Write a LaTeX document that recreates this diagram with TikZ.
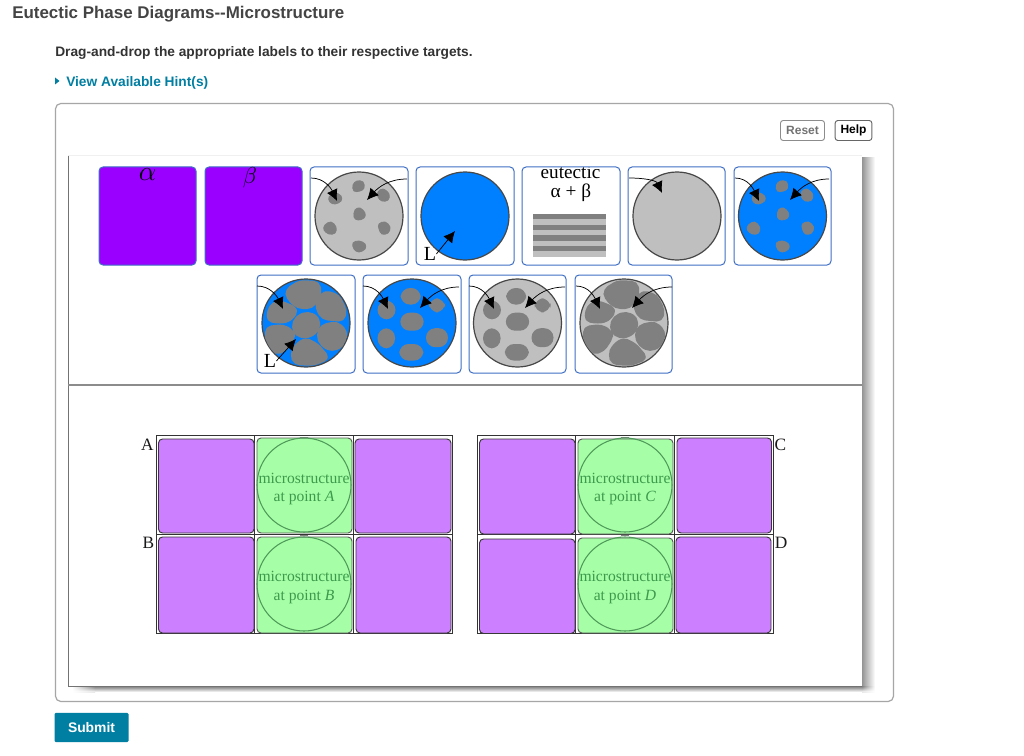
\documentclass[tikz,border=0pt]{standalone}
\usepackage{fontspec}
\setmainfont{Liberation Serif}
\newfontfamily\uifont{Liberation Sans}
\usetikzlibrary{arrows.meta}
\definecolor{vio}{HTML}{9900FF}
\definecolor{lvio}{HTML}{CC80FF}
\definecolor{lgreen}{HTML}{A6FFA6}
\definecolor{liq}{HTML}{0080FF}
\definecolor{pale}{HTML}{BFBFBF}
\definecolor{blob}{HTML}{808080}
\definecolor{cardline}{HTML}{3F6FC4}
\definecolor{teal}{HTML}{007FA3}
\definecolor{gtext}{HTML}{3D9A4D}
\definecolor{gline}{HTML}{4F9A5A}
\definecolor{slate}{HTML}{444444}
\tikzset{
 x=0.75pt,y=-0.75pt,
 card/.style={draw=cardline,line width=0.75pt,rounded corners=3pt,fill=white},
 vcard/.style={draw=cardline,line width=0.75pt,rounded corners=3pt,fill=vio},
 disc/.style={draw=black!72,line width=0.9pt},
 grain/.style={fill=blob,draw=blob,line width=0.6pt},
 medgrain/.style={fill=blob,rounded corners=7pt},
 biggrain/.style={fill=blob,draw=blob,line width=3pt,line join=round,rounded corners=3.5pt},
 pointer/.style={-{Latex[length=8.5pt,width=8.5pt]},black,line width=0.55pt},
 tile/.style={fill=lvio,draw=black!78,line width=0.7pt,rounded corners=3pt},
 gtile/.style={fill=lgreen,draw=black!65,line width=0.7pt,rounded corners=3pt},
 gridline/.style={draw=black!80,line width=0.7pt},
 ptlabel/.style={font=\fontsize{13pt}{14pt}\selectfont,text=black!90,inner sep=0pt},
 mslabel/.style={align=center,text=gtext,font=\fontsize{11.7pt}{14pt}\selectfont,inner sep=0pt},
 ui/.style={font=\uifont\bfseries,inner sep=0pt,anchor=west},
 topmark/.style={draw=black!50,line width=1pt},
}
\newcommand{\gr}[1]{\fill[grain] plot[smooth cycle,tension=0.65] coordinates {#1};}
\newcommand{\smallgrains}[1]{\begin{scope}[shift={#1}]
\gr{(-6,-31)(-2,-35)(4,-34)(5,-28)(1,-25)(-5,-25)}
\gr{(-30,-19)(-24,-23)(-18,-20)(-18,-15)(-24,-12)(-29,-14)}
\gr{(19,-24)(24,-27)(30,-22)(29,-16)(23,-15)(19,-19)}
\gr{(-4,-6)(1,-8)(6,-3)(5,2)(-1,4)(-5,1)}
\gr{(-34,9)(-28,6)(-23,11)(-24,17)(-30,18)(-35,14)}
\gr{(20,8)(26,6)(31,11)(29,17)(23,18)(20,13)}
\gr{(-6,27)(0,25)(6,28)(6,33)(0,36)(-5,33)}
\end{scope}}
\newcommand{\medgrains}[1]{\begin{scope}[shift={#1}]
\fill[medgrain] (-11.3,-35)--(8.7,-35)--(8.7,-18.4)--(-11.3,-18.4)--cycle;
\fill[medgrain] (-34.5,-22.3)--(-16.5,-22.3)--(-16.5,-3.7)--(-34.5,-3.7)--cycle;
\fill[medgrain] (17,-24.7)--(33,-24.7)--(33,-10.7)--(17,-10.7)--cycle;
\fill[medgrain] (-11.7,-10.3)--(11.7,-10.3)--(11.7,7.7)--(-11.7,7.7)--cycle;
\fill[medgrain] (-34.4,5.3)--(-17,5.3)--(-17,25.3)--(-34.4,25.3)--cycle;
\fill[medgrain] (14,5.2)--(36,5.2)--(36,24.2)--(14,24.2)--cycle;
\fill[medgrain] (-12.7,21)--(11.3,21)--(11.3,37.6)--(-12.7,37.6)--cycle;
\end{scope}}
\newcommand{\largegrains}[1]{\begin{scope}[shift={#1}]
\filldraw[biggrain] (-19,-33)--(-6,-41)--(12,-40)--(14,-30)--(6,-16)--(-8,-16)--(-18,-25)--cycle;
\filldraw[biggrain] (19,-31)--(32,-27)--(39,-13)--(37,-3)--(17,-5)--(11,-15)--(12,-23)--cycle;
\filldraw[biggrain] (-36,-16)--(-28,-21)--(-18,-18)--(-9,-13)--(-16,-3)--(-26,-1)--(-38,-3)--cycle;
\filldraw[biggrain] (-9,-6)--(2,-10)--(12,-5)--(12,7)--(2,14)--(-9,12)--(-13,4)--cycle;
\filldraw[biggrain] (16,3)--(31,0)--(40,9)--(37,22)--(26,27)--(16,22)--(12,12)--cycle;
\filldraw[biggrain] (-39,5)--(-23,3)--(-13,9)--(-13,15)--(-21,27)--(-31,30)--(-39,22)--cycle;
\filldraw[biggrain] (-11,24)--(-1,16)--(11,22)--(22,35)--(7,41)--(-11,40)--(-14,32)--cycle;
\end{scope}}
\newcommand{\leftpt}[2]{\draw[pointer] #1 to[out=0,in=115] #2;}
\newcommand{\rightpt}[2]{\draw[pointer] #1 to[out=180,in=48] #2;}
\begin{document}
\begin{tikzpicture}
\useasboundingbox (0,0) rectangle (1024,756);
\fill[white] (0,0) rectangle (1024,756);
% page text
\node[ui,text=slate,font=\uifont\bfseries\fontsize{12.7pt}{14pt}\selectfont] (title) at (12,14) {Eutectic Phase Diagrams--Microstructure};
\node[ui,text=black!80,font=\uifont\bfseries\fontsize{10.3pt}{12pt}\selectfont] (instr) at (55,53) {Drag-and-drop the appropriate labels to their respective targets.};
\fill[teal] (55,77.5)--(59.5,81)--(55,84.5)--cycle;
\node[ui,text=teal,font=\uifont\bfseries\fontsize{10.3pt}{12pt}\selectfont] (hint) at (66,83) {View Available Hint(s)};
% panel
\draw[black!35,line width=0.9pt,rounded corners=4pt,fill=white] (55.5,103.5) rectangle (893.5,701.5);
\node[draw=black!45,line width=0.7pt,rounded corners=2pt,minimum width=33pt,minimum height=15pt,inner sep=0pt,font=\uifont\bfseries\fontsize{9pt}{10pt}\selectfont,text=black!55] (reset) at (802.5,130.5) {Reset};
\node[draw=black!60,line width=0.7pt,rounded corners=2pt,minimum width=27.5pt,minimum height=15pt,inner sep=0pt,font=\uifont\bfseries\fontsize{9pt}{10pt}\selectfont,text=black] (help) at (853.5,130.5) {Help};
% shadow
\shade[left color=black!42,right color=white] (862,158) rectangle (875,686);
\foreach \i/\c in {0/50,1/44,2/36,3/27,4/18,5/9}{
  \shade[left color=white,right color=black!\c] (72,686+\i) rectangle (95,687+\i);
  \fill[black!\c] (95,686+\i) rectangle (862,687+\i);
  \shade[left color=black!\c,right color=white] (862,686+\i) rectangle (875,687+\i);
}
\draw[black!6,line width=0.6pt] (68,155.5)--(862,155.5);
\fill[white] (68,156) rectangle (862,686);
\draw[black!55,line width=0.75pt] (68,156)--(68,686)--(862,686);
\draw[black!45,line width=1.4pt] (68,385)--(862,385);
% top row
\draw[vcard] (99,167) rectangle (196,265);
\node[inner sep=0pt] (alpha) at (147.5,175) {\fontsize{20.74pt}{20pt}\selectfont$\alpha$};
\draw[vcard] (205,167) rectangle (302,265);
\node[inner sep=0pt] (beta) at (250,178) {\fontsize{17.28pt}{20pt}\selectfont$\beta$};
% card: pale with few grains
\draw[card] (310,167) rectangle (408,265);
\draw[disc,fill=pale] (359,216) circle[radius=44];
\smallgrains{(359,216)}
\leftpt{(311,178)}{(337,201)}
\rightpt{(407,179)}{(367,200)}
% card: liquid
\draw[card] (416,167) rectangle (514,265);
\draw[disc,fill=liq] (465,216) circle[radius=44];
\node[ptlabel,font=\fontsize{15pt}{15pt}\selectfont,text=black] (L1) at (430,254) {L};
\draw[pointer] (L1.east) -- (455,231);
% card: eutectic
\draw[card] (522,167) rectangle (620,265);
\begin{scope}
\clip (522,167.5) rectangle (620,265);
\node[inner sep=0pt,font=\fontsize{14.4pt}{14pt}\selectfont] (eut) at (570.5,172.5) {eutectic};
\node[inner sep=0pt,font=\fontsize{14.5pt}{15pt}\selectfont] (ab) at (571,193) {α + β};
\end{scope}
\fill[pale] (533,214) rectangle (606,257);
\foreach \y in {214,224.6,235.4,246}{\fill[blob] (533,\y) rectangle (606,\y+5.4);}
% card: pale
\draw[card] (628,167) rectangle (725,265);
\draw[disc,fill=pale] (677,216) circle[radius=44];
\leftpt{(629,178)}{(662,193)}
% card: liquid few grains
\draw[card] (734,167) rectangle (831,265);
\draw[disc,fill=liq] (782.5,216) circle[radius=44];
\smallgrains{(782.5,216)}
\leftpt{(735,178)}{(759,201)}
\rightpt{(829,179)}{(790,200)}
% second row
\draw[card] (257,275) rectangle (355,373);
\draw[disc,fill=liq] (306,323) circle[radius=44];
\begin{scope}\clip (306,323) circle[radius=43.5];\largegrains{(306,323)}\end{scope}
\leftpt{(257,286)}{(283,309)}
\node[ptlabel,font=\fontsize{15pt}{15pt}\selectfont,text=black] (L2) at (270,361) {L};
\draw[pointer] (L2.east) -- (296,339);
\draw[card] (363,275) rectangle (461,373);
\draw[disc,fill=liq] (412,323) circle[radius=44];
\medgrains{(412,323)}
\leftpt{(363,286)}{(388,309)}
\rightpt{(459,287)}{(420,308)}
\draw[card] (469,275) rectangle (566,373);
\draw[disc,fill=pale] (517.5,323) circle[radius=44];
\medgrains{(517.5,323)}
\leftpt{(469,286)}{(494,309)}
\rightpt{(565,287)}{(525,308)}
\draw[card] (575,275) rectangle (672,373);
\draw[disc,fill=pale] (624,323) circle[radius=44];
\begin{scope}\clip (624,323) circle[radius=43.5];\largegrains{(624,323)}\end{scope}
\leftpt{(576,286)}{(600,309)}
\rightpt{(672,287)}{(632,308)}
% left grid
\draw[gridline] (156,435) rectangle (452,633);
\draw[gridline] (254.5,435)--(254.5,633) (353,435)--(353,633) (156,534)--(452,534);
\draw[tile] (158.5,439) rectangle (254,533);
\draw[gtile] (257,438) rectangle (352,533);
\draw[tile] (355,439) rectangle (451,533);
\draw[tile] (158.5,537) rectangle (254,633);
\draw[gtile] (257,537) rectangle (352,633);
\draw[tile] (356,537) rectangle (451,633);
\draw[topmark] (300,437.5)--(308,437.5) (300,535.5)--(308,535.5);
\draw[gline,line width=0.8pt] (304,485) circle[radius=47];
\draw[gline,line width=0.8pt] (304,584) circle[radius=47];
\node[mslabel] (ma) at (304,489) {microstructure\\at point \textit{A}};
\node[mslabel] (mb) at (304,587.5) {microstructure\\at point \textit{B}};
\node[ptlabel] (A) at (147.5,445) {A};
\node[ptlabel] (B) at (148.5,542.5) {B};
% right grid
\draw[gridline] (477,435) rectangle (773,633);
\draw[gridline] (575.5,435)--(575.5,633) (674,435)--(674,633) (477,534)--(773,534);
\draw[tile] (479.5,439) rectangle (575,534);
\draw[gtile] (578,439) rectangle (673,534);
\draw[tile] (677,438) rectangle (771.5,533);
\draw[tile] (479.5,539) rectangle (575,633.5);
\draw[gtile] (578,538) rectangle (673,633);
\draw[tile] (676,537) rectangle (771,633);
\draw[topmark] (621,437.5)--(629,437.5) (621,535.5)--(629,535.5);
\draw[gline,line width=0.8pt] (625,485) circle[radius=47];
\draw[gline,line width=0.8pt] (625,584) circle[radius=47];
\node[mslabel] (mc) at (625,489) {microstructure\\at point \textit{C}};
\node[mslabel] (md) at (625,587.5) {microstructure\\at point \textit{D}};
\node[ptlabel] (C) at (780.5,444.5) {C};
\node[ptlabel] (D) at (781,542.5) {D};
% submit
\node[fill=teal,rounded corners=1pt,minimum width=55.5pt,minimum height=22pt,inner sep=0pt,text=white,font=\uifont\bfseries\fontsize{10.4pt}{12pt}\selectfont] (submit) at (91.5,727.5) {Submit};
\end{tikzpicture}
\end{document}
